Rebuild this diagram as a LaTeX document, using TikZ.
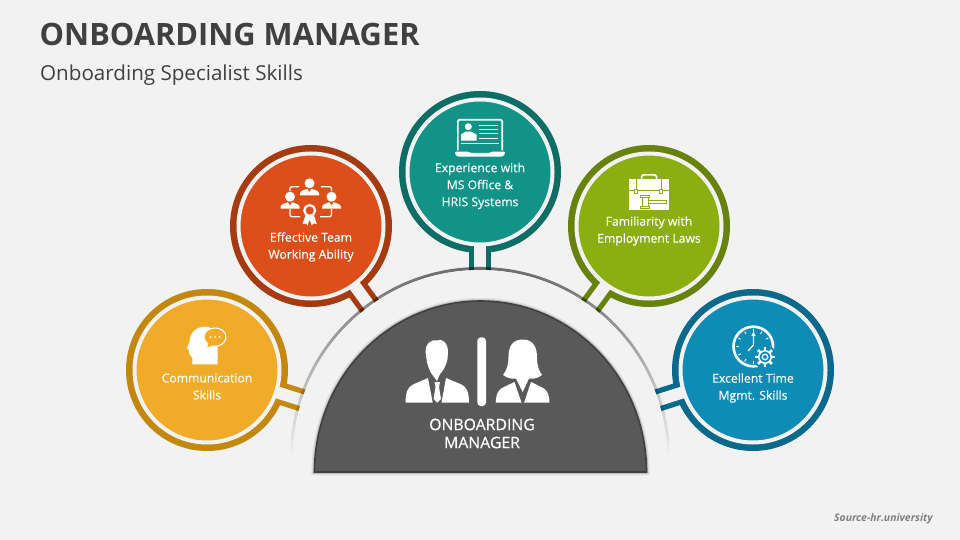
\documentclass[tikz,border=0pt]{standalone}
\usepackage{xcolor}
\usepackage{fontspec}
\setmainfont{Open Sans}
\newfontfamily\cardfont[FakeBold=0.35]{Open Sans}
\usetikzlibrary{calc}
\usetikzlibrary{positioning}
\usetikzlibrary{fadings}
\definecolor{bgcol}{HTML}{F2F2F2}
\definecolor{inkcol}{HTML}{404040}
\definecolor{hubcol}{HTML}{595959}
\definecolor{commcol}{HTML}{F0AB28}
\definecolor{commring}{HTML}{C4880E}
\definecolor{teamcol}{HTML}{DC4F1B}
\definecolor{teamring}{HTML}{A63B11}
\definecolor{expercol}{HTML}{129388}
\definecolor{experring}{HTML}{0E6E66}
\definecolor{familcol}{HTML}{8BAF11}
\definecolor{familring}{HTML}{68830D}
\definecolor{timecol}{HTML}{0F8CB6}
\definecolor{timering}{HTML}{0B6A8B}
\tikzfading[name=archfade, top color=transparent!45, middle color=transparent!80, bottom color=transparent!100]
\tikzset{
  ringnode/.style={circle, draw=#1, fill=bgcol, line width=7pt, minimum size=155pt, inner sep=0pt},
  discnode/.style={circle, draw=bgcol, fill=#1, line width=4pt, minimum size=145pt, inner sep=0pt},
  stem/.style={draw=#1, double=bgcol, double distance=12pt, line width=5.3pt},
  cardtext/.style={text=white, align=center, font=\cardfont\fontsize{12.2}{17}\selectfont, inner sep=0pt}
}
\begin{document}
\begin{tikzpicture}[x=1pt,y=-1pt]
\fill[bgcol] (0,0) rectangle (960,540);
\node[anchor=west, inner sep=0pt, text=inkcol, font=\fontsize{30.8}{36}\selectfont\bfseries] (title) at (39.5,34) {ONBOARDING MANAGER};
\node[anchor=west, inner sep=0pt, text=inkcol, font=\fontsize{20.6}{24}\selectfont] (subtitle) at (40,75.5) {Onboarding Specialist Skills};
\node[anchor=east, inner sep=0pt, text=gray, font=\fontsize{10.4}{12}\selectfont\bfseries\itshape] (source) at (933,519) {Source-hr.university};

\coordinate (hubc) at (480,457);
\node[ringnode=commring] (commout) at (207,370) {};
\node[ringnode=teamring] (teamout) at (311,226) {};
\node[ringnode=experring] (experout) at (480,172) {};
\node[ringnode=familring] (familout) at (649,226) {};
\node[ringnode=timering] (timeout) at (753,370) {};
\draw[stem=commring] (commout.center) -- (hubc);
\draw[stem=teamring] (teamout.center) -- (hubc);
\draw[stem=experring] (experout.center) -- (hubc);
\draw[stem=familring] (familout.center) -- (hubc);
\draw[stem=timering] (timeout.center) -- (hubc);
\node[discnode=commcol] (comm) at (commout.center) {};
\node[discnode=teamcol] (team) at (teamout.center) {};
\node[discnode=expercol] (exper) at (experout.center) {};
\node[discnode=familcol] (famil) at (familout.center) {};
\node[discnode=timecol] (timem) at (timeout.center) {};

\fill[black, path fading=archfade, even odd rule] (hubc) ++(-190,0) arc (180:360:190) -- cycle (hubc) ++(-187,0) arc (180:360:187) -- cycle;
\fill[bgcol] (hubc) ++(-187,0) arc (180:360:187) -- cycle;
\draw[black, opacity=.08, line width=6pt] (314.5,472) arc (180:360:166 and 171) -- cycle;
\draw[black, opacity=.14, line width=3.5pt] (314.5,472) arc (180:360:166 and 171) -- cycle;
\draw[inkcol, fill=hubcol, line width=1.6pt] (314.5,472) arc (180:360:166 and 171) -- cycle;

\node[cardtext, font=\cardfont\fontsize{15.8}{18}\selectfont] (hub) at (482,433.5) {ONBOARDING\\MANAGER};
\node[cardtext] (commtext) at (207,386.5) {Communication\\Skills};
\node[cardtext] (teamtext) at (311,247) {Effective Team\\Working Ability};
\node[cardtext] (expertext) at (480,186) {Experience with\\MS Office \&\\HRIS Systems};
\node[cardtext] (familtext) at (649,231) {Familiarity with\\Employment Laws};
\node[cardtext] (timetext) at (753,388) {Excellent Time\\Mgmt. Skills};

% manager
\fill[white] (425.5,352) .. controls (425,345) and (430,339) .. (437,340.5) .. controls (441,338) and (448,342) .. (448,352) -- (447.5,359) .. controls (446,367) and (442,372) .. (440,374) -- (437,381) -- (431,373) .. controls (429,369) and (427,364) .. (426.5,359) -- cycle;
\fill[white] (405.5,402.7) .. controls (405.5,392) and (408,387) .. (413,384.5) -- (428,378) -- (432.7,402.7) -- cycle;
\fill[white] (469,402.7) .. controls (469,392) and (466.5,387) .. (461.5,384.5) -- (446,378) -- (441.5,402.7) -- cycle;
\fill[white] (434.5,382) -- (440,382) -- (439,387) -- (441,399) -- (437.2,402.7) -- (433.5,399) -- (435.5,387) -- cycle;
\fill[white, rounded corners=3.5pt] (477.3,337.3) rectangle (486,406);
\fill[white] (522.7,339.5) .. controls (512,339.5) and (508.5,347) .. (508.5,357) .. controls (508.5,366) and (506,371) .. (503,375) .. controls (508,379) and (514,379) .. (516,378.5) -- (522.7,392) -- (529,378.5) .. controls (532,379) and (537,379) .. (542,375) .. controls (539,371) and (537,366) .. (537,357) .. controls (537,347) and (533,339.5) .. (522.7,339.5) -- cycle;
\fill[white] (495.7,402.7) .. controls (496,393) and (499,388.5) .. (505,386.5) -- (514.5,382) -- (521.5,402.7) -- cycle;
\fill[white] (549.5,402.7) .. controls (549.2,393) and (546.2,388.5) .. (540.2,386.5) -- (531,382) -- (524,402.7) -- cycle;

% head
\fill[white] (192.3,364.3) -- (192.3,358) .. controls (191,355.5) and (190,355.5) .. (189.5,354) -- (189,350) -- (186.7,348.3) -- (189.5,342) .. controls (189.5,333) and (196,326.7) .. (205,326.7) .. controls (214,326.7) and (218,334) .. (217.7,345) -- (217.7,364.3) -- cycle;
\draw[white, fill=commcol, line width=1.1pt] (207.5,343.5) -- (206.5,348.5) -- (212,346.2) .. controls (219,347.5) and (226,343) .. (226,337.3) .. controls (226,331.5) and (221,328) .. (215,328) .. controls (209,328) and (204,331.5) .. (204,337.3) .. controls (204,339.5) and (205.5,342) .. (207.5,343.5) -- cycle;
\foreach \dx in {-4.5,0,4.5}
  \fill[white] (215+\dx,337) circle (1);

% team
\foreach \px/\py in {309.5/183.3, 290/196.7, 331.5/196.7}{
  \fill[white] (\px,\py) circle (5);
  \fill[white] (\px-9.5,\py+12) -- (\px-9.5,\py+10) .. controls (\px-9,\py+7.5) and (\px-5,\py+6.5) .. (\px-2,\py+5.5) -- (\px,\py+9) -- (\px+2,\py+5.5) .. controls (\px+5,\py+6.5) and (\px+9,\py+7.5) .. (\px+9.5,\py+10) -- (\px+9.5,\py+12) -- cycle;
}
\draw[white, line width=1.3pt, rounded corners=2pt] (290,191) -- (290,186.7) -- (299,186.7);
\draw[white, line width=1.3pt, rounded corners=2pt] (331.5,191) -- (331.5,186.7) -- (321,186.7);
\draw[white, line width=1.3pt, rounded corners=2pt] (290,209) -- (290,216.7) -- (300,216.7);
\draw[white, line width=1.3pt, rounded corners=2pt] (331.5,209) -- (331.5,216.7) -- (320,216.7);
\fill[white] (305.5,215) -- (302.5,224) -- (306,223.5) -- (307.5,225.5) -- (309.7,219.5) -- (311.8,225.5) -- (313.3,223.5) -- (316.8,224) -- (313.8,215) -- cycle;
\draw[white, fill=teamcol, line width=2.2pt] (309.7,210.5) circle (5.4);

% laptop
\draw[white, line width=1.6pt, rounded corners=1.5pt] (457.8,150.5) -- (457.8,119.8) -- (502.2,119.8) -- (502.2,150.5);
\fill[white, rounded corners=1pt] (455,151.7) -- (469,151.7) -- (470,153) -- (490,153) -- (491,151.7) -- (505,151.7) -- (505,154) -- (502,156.7) -- (458,156.7) -- (455,154) -- cycle;
\fill[white] (468.3,126.7) circle (3.5);
\fill[white] (461,140.7) -- (461,134.5) -- (465.5,131.7) -- (471,131.7) -- (476.5,134.5) -- (476.5,140.7) -- cycle;
\foreach \ly in {125.7,129.7,134,139}
  \draw[white, line width=1pt] (479.3,\ly) -- (498.3,\ly);
\draw[white, line width=1pt] (461,143.3) -- (499,143.3);

% briefcase
\draw[white, line width=1.5pt, rounded corners=1.5pt] (641.5,179) -- (641.5,175) -- (656.5,175) -- (656.5,179);
\fill[white] (629,179) rectangle (669,210);
\draw[familcol, line width=.9pt] (636,179) -- (636,189);
\draw[familcol, line width=.9pt] (661,179) -- (661,189);
\draw[familcol, line width=.8pt] (634.3,189) rectangle (637.7,193.5);
\draw[familcol, line width=.8pt] (659.3,189) rectangle (662.7,193.5);
\draw[familcol, line width=.8pt] (629,190) -- (634,190) (638,190) -- (659,190) (663,190) -- (669,190);
\draw[familcol, fill=white, line width=.9pt] (648.5,200) rectangle (666,203);
\draw[familcol, fill=white, line width=.9pt] (642,197) rectangle (648.5,206.5);
\draw[familcol, fill=white, line width=.9pt] (640.7,195) rectangle (649.5,197.3);
\draw[familcol, fill=white, line width=.9pt] (640.7,206.2) rectangle (649.5,208.5);

% clock
\draw[white, line width=2.6pt] (753.3,346.5) circle (19.8);
\foreach \tick in {0,30,...,330}
  \draw[white, line width=.9pt] (753.3,346.5) ++(\tick:14.5) -- ++(\tick:2.8);
\draw[white, line width=1.3pt] (748,351) -- (753.5,345) -- (753.5,333.5);
\fill[white] (753.5,331.5) -- (751.3,336) -- (755.7,336) -- cycle;
\fill[timecol] (765,357) circle (12);
\foreach \tooth in {0,45,...,315}
  \draw[white, line width=2.8pt] (765,357) ++(\tooth:6) -- ++(\tooth:3.8);
\draw[white, fill=timecol, line width=1.5pt] (765,357) circle (6.2);
\draw[white, line width=1.3pt] (765,357) circle (2.8);
\end{tikzpicture}
\end{document}
